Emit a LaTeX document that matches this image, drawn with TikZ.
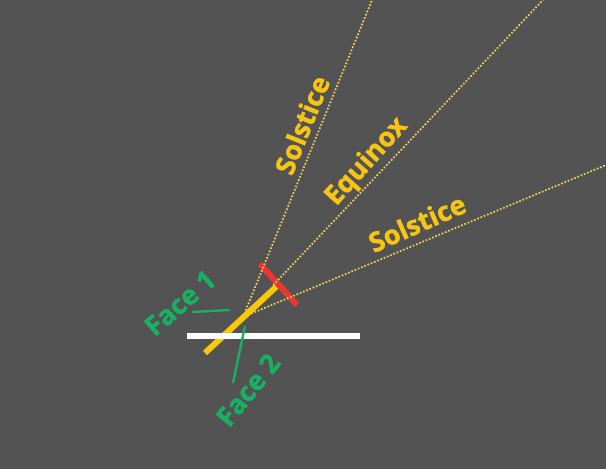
\documentclass[tikz,border=0pt]{standalone}
\usepackage{fontspec}
\setsansfont{Open Sans}[BoldFeatures={FakeBold=1.3}]
\definecolor{bgc}{RGB}{83,83,83}
\definecolor{gold}{RGB}{250,200,10}
\definecolor{labelgold}{RGB}{245,196,20}
\definecolor{redbar}{RGB}{235,55,50}
\definecolor{facegreen}{RGB}{25,175,100}
\definecolor{dotc}{RGB}{240,210,90}
\tikzset{
  ray/.style={dotc, line width=1.7pt, dash pattern=on 1.7pt off 1.8pt},
  gnomon/.style={gold, line width=6pt},
  edgebar/.style={redbar, line width=6pt},
  groundbar/.style={white, line width=6pt},
  faceline/.style={facegreen, line width=2.4pt},
  raylabel/.style={text=labelgold, font=\sffamily\bfseries\fontsize{27}{30}\selectfont, inner sep=0pt},
  facelabel/.style={text=facegreen, font=\sffamily\bfseries\fontsize{27}{30}\selectfont, inner sep=0pt}
}
\begin{document}
\begin{tikzpicture}[x=1pt,y=-1pt]
\fill[bgc] (0,0) rectangle (606,469);
\useasboundingbox (0,0) rectangle (606,469);
\coordinate (O) at (243,317);
\coordinate (gA) at (205,353);
\coordinate (gB) at (277,286);
\coordinate (rA) at (260,264);
\coordinate (rB) at (297,305);
\coordinate (wA) at (187,335.5);
\coordinate (wB) at (360,335.5);
\coordinate (e1) at (372,0);
\coordinate (e2) at (543,0);
\coordinate (e3) at (606,165);
\coordinate (f1a) at (192,312);
\coordinate (f1b) at (230,310);
\coordinate (f2a) at (245,326);
\coordinate (f2b) at (233,383);
\draw[gnomon] (gA) -- (gB);
\draw[groundbar] (wA) -- (wB);
\draw[edgebar] (rA) -- (rB);
\draw[ray, shorten <=7pt] (O) -- (e1);
\draw[ray, shorten <=44pt] (O) -- (e2);
\draw[ray, shorten <=9pt] (O) -- (e3);
\draw[faceline] (f1a) -- (f1b);
\draw[faceline] (f2a) -- (f2b);
\node[raylabel, rotate=68] (s1) at (302,125) {Solstice};
\node[raylabel, rotate=48] (eq) at (367,162) {Equinox};
\node[raylabel, rotate=24] (s2) at (417,223) {Solstice};
\node[facelabel, rotate=41] (fa) at (180,303) {Face 1};
\node[facelabel, rotate=51] (fb) at (248,390) {Face 2};
\end{tikzpicture}
\end{document}
